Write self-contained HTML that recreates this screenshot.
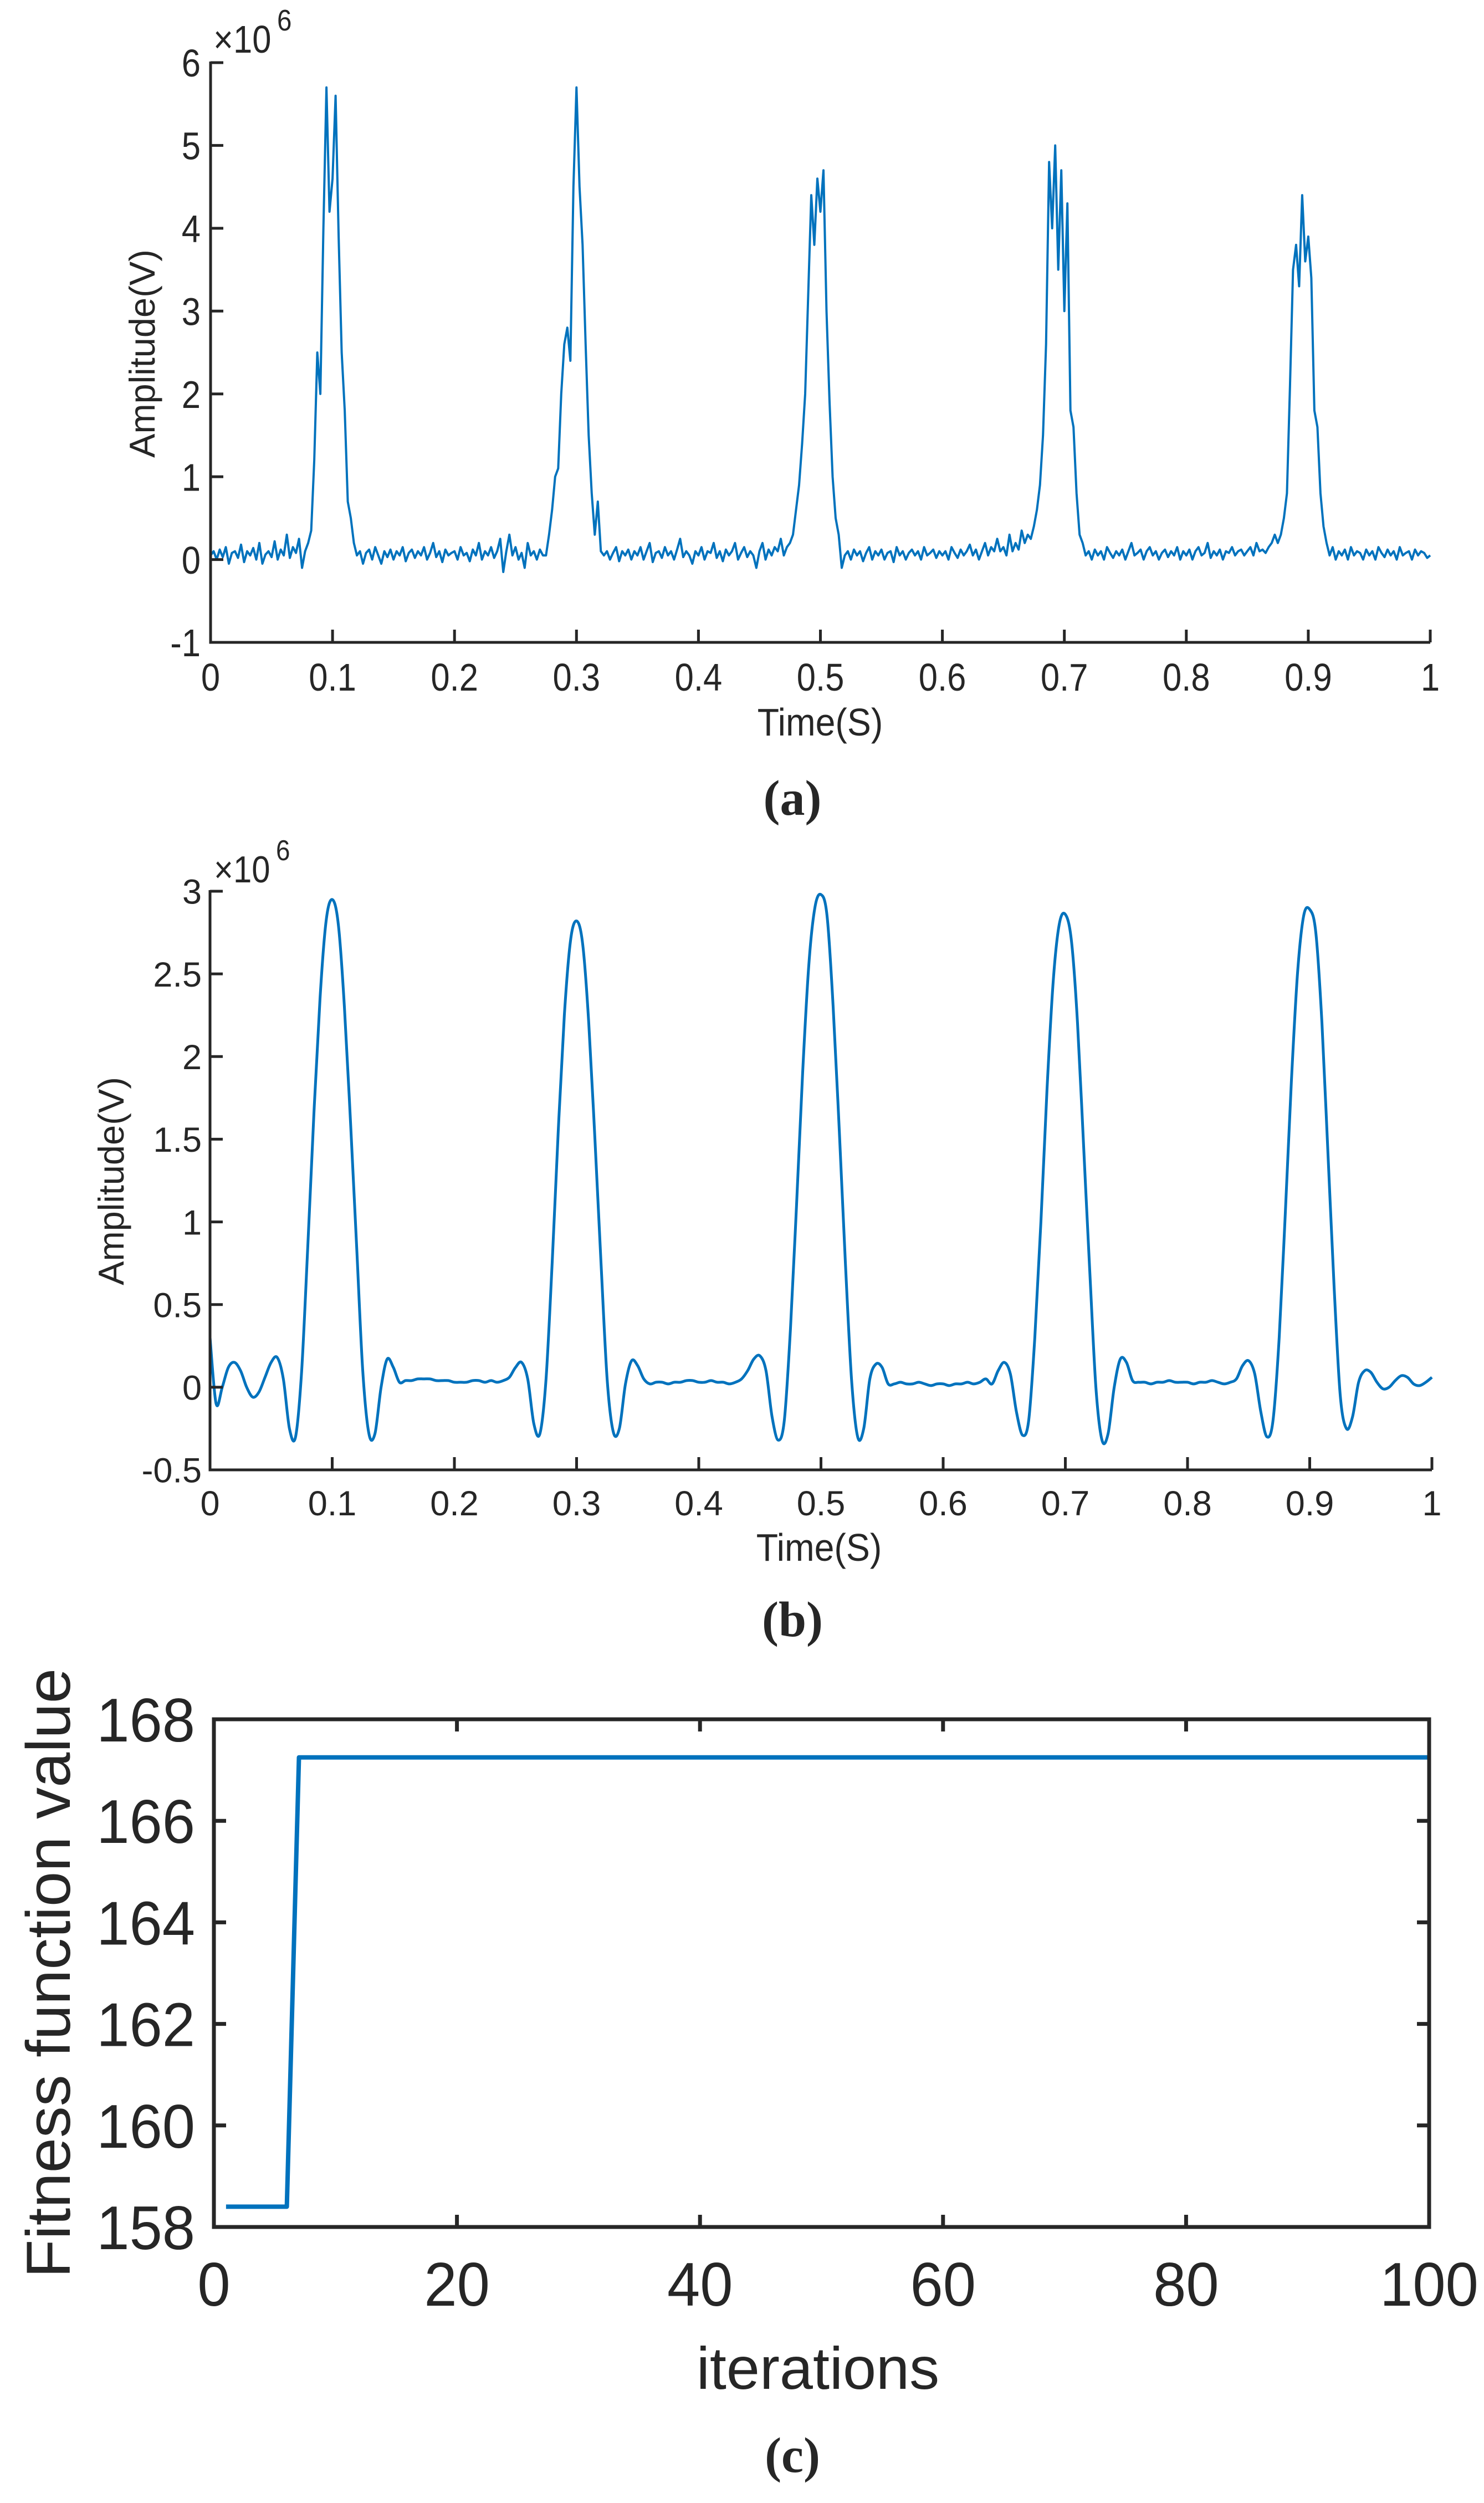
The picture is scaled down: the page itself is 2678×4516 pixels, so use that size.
<!DOCTYPE html>
<html><head><meta charset="utf-8"><title>Signal figures</title>
<style>
html,body{margin:0;padding:0;background:#fff;}
svg{display:block;}
text{font-family:"Liberation Sans",sans-serif;fill:#262626;}
.cap{font-family:"Liberation Serif",serif;font-weight:bold;}
</style></head>
<body>
<svg id="fig" width="2678" height="4516" viewBox="0 0 2678 4516" xmlns="http://www.w3.org/2000/svg"></svg>
<script>
// ---- Chart (a): raw signal (units of 1e6 V), sampled every 0.0025 s ----
const aTimeStep = 0.0025;
const aValues = [
0.05,0.1,0.0,0.12,0.03,0.15,-0.05,0.08,0.1,0.02,0.18,-0.03,0.1,0.05,0.14,0.0,0.2,-0.05,0.06,0.1,0.03,0.22,0.0,0.12,0.05,0.3,0.02,0.15,0.08,0.25,-0.1,0.1,0.2,0.35,1.2,2.5,2.0,4.0,5.7,4.2,
4.6,5.6,3.9,2.5,1.8,0.7,0.5,0.2,0.05,0.1,-0.05,0.08,0.12,0.0,0.15,0.05,-0.05,0.1,0.03,0.12,0.0,0.1,0.05,0.15,-0.02,0.08,0.12,0.02,0.1,0.05,0.15,0.0,0.08,0.2,0.03,0.1,-0.03,0.12,0.05,0.08,
0.1,0.0,0.15,0.05,0.08,-0.02,0.12,0.05,0.2,0.0,0.1,0.05,0.15,0.02,0.1,0.25,-0.15,0.1,0.3,0.05,0.15,0.0,0.08,-0.1,0.2,0.05,0.1,0.0,0.12,0.05,0.05,0.3,0.6,1.0,1.1,2.0,2.6,2.8,2.4,4.5,
5.7,4.5,3.8,2.6,1.5,0.8,0.3,0.7,0.1,0.05,0.1,0.0,0.08,0.15,-0.02,0.1,0.05,0.12,0.0,0.1,0.05,0.15,0.0,0.1,0.2,-0.03,0.08,0.1,0.02,0.15,0.05,0.1,0.0,0.12,0.25,0.03,0.1,0.05,-0.05,0.1,
0.05,0.15,0.0,0.1,0.08,0.2,0.02,0.1,-0.02,0.12,0.05,0.1,0.2,0.0,0.08,0.15,0.03,0.1,0.05,-0.1,0.1,0.2,0.0,0.12,0.05,0.15,0.1,0.25,0.05,0.15,0.2,0.3,0.6,0.9,1.4,2.0,3.2,4.4,3.8,4.6,
4.2,4.7,3.0,1.9,1.0,0.5,0.3,-0.1,0.05,0.1,0.0,0.12,0.05,0.1,-0.02,0.08,0.15,0.0,0.1,0.05,0.12,0.0,0.08,0.1,-0.03,0.15,0.05,0.1,0.0,0.08,0.12,0.05,0.1,0.0,0.15,0.05,0.08,0.12,0.02,0.1,
0.05,0.1,0.0,0.15,0.08,0.02,0.12,0.05,0.1,0.18,0.05,0.12,0.0,0.1,0.2,0.05,0.15,0.1,0.25,0.1,0.15,0.05,0.3,0.1,0.2,0.12,0.35,0.2,0.3,0.25,0.4,0.6,0.9,1.5,2.6,4.8,4.0,5.0,3.5,4.7,
3.0,4.3,1.8,1.6,0.8,0.3,0.2,0.05,0.1,0.0,0.12,0.05,0.1,0.0,0.15,0.08,0.02,0.1,0.05,0.12,0.0,0.1,0.2,0.05,0.08,0.12,0.0,0.1,0.15,0.05,0.1,0.0,0.08,0.12,0.03,0.1,0.05,0.15,0.0,0.1,
0.05,0.12,0.0,0.1,0.15,0.05,0.08,0.2,0.02,0.1,0.05,0.12,0.0,0.1,0.08,0.15,0.05,0.1,0.12,0.05,0.1,0.15,0.05,0.2,0.1,0.12,0.08,0.15,0.2,0.3,0.2,0.3,0.5,0.8,2.1,3.5,3.8,3.3,4.4,3.6,
3.9,3.4,1.8,1.6,0.8,0.4,0.2,0.05,0.15,0.0,0.1,0.05,0.12,0.0,0.15,0.05,0.1,0.08,0.0,0.12,0.05,0.1,0.0,0.15,0.08,0.03,0.12,0.05,0.1,0.0,0.15,0.05,0.08,0.1,0.0,0.12,0.05,0.1,0.08,0.02,
0.05];
const aXTicks = [0,0.1,0.2,0.3,0.4,0.5,0.6,0.7,0.8,0.9,1];
const aXTickLabels = ["0","0.1","0.2","0.3","0.4","0.5","0.6","0.7","0.8","0.9","1"];
const aYTicks = [-1,0,1,2,3,4,5,6];
const aYTickLabels = ["-1","0","1","2","3","4","5","6"];

// ---- Chart (b): filtered signal (units of 1e6 V), sampled every 0.005 s ----
const bTimeStep = 0.005;
const bValues = [
0.30,-0.10,0.00,0.12,0.15,0.10,0.00,-0.06,-0.03,0.06,0.15,0.18,0.05,-0.25,-0.30,0.10,0.85,1.65,2.35,2.82,
2.95,2.80,2.30,1.60,0.85,0.10,-0.28,-0.28,0.00,0.17,0.12,0.03,0.04,0.04,0.05,0.05,0.05,0.04,0.04,0.04,
0.03,0.03,0.03,0.04,0.04,0.03,0.04,0.03,0.04,0.06,0.12,0.15,0.05,-0.22,-0.28,0.05,0.75,1.55,2.25,2.70,
2.82,2.68,2.20,1.50,0.75,0.05,-0.27,-0.25,0.02,0.16,0.13,0.05,0.02,0.03,0.03,0.02,0.03,0.03,0.04,0.04,
0.03,0.03,0.04,0.03,0.03,0.02,0.03,0.05,0.10,0.17,0.19,0.10,-0.18,-0.32,-0.20,0.35,1.10,1.90,2.55,2.90,
2.98,2.85,2.30,1.55,0.75,0.05,-0.30,-0.25,0.05,0.14,0.12,0.02,0.02,0.03,0.02,0.02,0.03,0.02,0.01,0.02,
0.02,0.01,0.02,0.02,0.03,0.02,0.03,0.05,0.02,0.10,0.15,0.08,-0.15,-0.29,-0.20,0.30,1.00,1.80,2.45,2.80,
2.86,2.70,2.20,1.45,0.70,0.00,-0.32,-0.28,0.00,0.17,0.15,0.04,0.03,0.03,0.02,0.03,0.03,0.04,0.03,0.03,
0.03,0.02,0.03,0.03,0.04,0.03,0.02,0.03,0.05,0.13,0.16,0.08,-0.15,-0.30,-0.20,0.30,1.05,1.85,2.50,2.85,
2.89,2.75,2.20,1.40,0.60,-0.05,-0.25,-0.18,0.03,0.10,0.09,0.03,-0.01,0.00,0.04,0.07,0.06,0.02,0.01,0.03,
0.06];
const bXTicks = [0,0.1,0.2,0.3,0.4,0.5,0.6,0.7,0.8,0.9,1];
const bXTickLabels = ["0","0.1","0.2","0.3","0.4","0.5","0.6","0.7","0.8","0.9","1"];
const bYTicks = [-0.5,0,0.5,1,1.5,2,2.5,3];
const bYTickLabels = ["-0.5","0","0.5","1","1.5","2","2.5","3"];

// ---- Chart (c): fitness per iteration ----
const cIterations = [1,6,7,100];
const cFitness = [158.4,158.4,167.25,167.25];
const cXTicks = [0,20,40,60,80,100];
const cXTickLabels = ["0","20","40","60","80","100"];
const cYTicks = [158,160,162,164,166,168];
const cYTickLabels = ["158","160","162","164","166","168"];

const NS = "http://www.w3.org/2000/svg";
const svg = document.getElementById("fig");
const AX = "#262626", BLUE = "#0072BD";

function mk(tag, attrs, parent) {
  const e = document.createElementNS(NS, tag);
  for (const k in attrs) e.setAttribute(k, attrs[k]);
  (parent || svg).appendChild(e);
  return e;
}
function label(txt, x, y, size, sx, anchor, name, cls, rot) {
  const g = mk("g", {transform: "translate(" + x + "," + y + ")" + (rot ? " rotate(" + rot + ")" : "") + " scale(" + sx + ",1)"});
  const t = mk("text", {x: 0, y: 0, "font-size": size, "text-anchor": anchor}, g);
  if (cls) t.setAttribute("class", cls);
  t.textContent = txt;
  
  
  return t;
}

function drawChart(cfg) {
  const sx = v => cfg.L + (v - cfg.x0) / (cfg.x1 - cfg.x0) * (cfg.R - cfg.L);
  const sy = v => cfg.B - (v - cfg.y0) / (cfg.y1 - cfg.y0) * (cfg.B - cfg.T);
  const g = mk("g", {});
  
  
  const P = cfg.xs.map((x, i) => [sx(x), sy(cfg.ys[i])]);
  let d = "M" + P[0][0].toFixed(1) + "," + P[0][1].toFixed(1);
  if (cfg.smooth) {
    for (let i = 0; i < P.length - 1; i++) {
      const p0 = P[Math.max(0, i - 1)], p1 = P[i], p2 = P[i + 1], p3 = P[Math.min(P.length - 1, i + 2)];
      const c1x = p1[0] + (p2[0] - p0[0]) / 6, c1y = p1[1] + (p2[1] - p0[1]) / 6;
      const c2x = p2[0] - (p3[0] - p1[0]) / 6, c2y = p2[1] - (p3[1] - p1[1]) / 6;
      d += "C" + c1x.toFixed(1) + "," + c1y.toFixed(1) + " " + c2x.toFixed(1) + "," + c2y.toFixed(1) + " " + p2[0].toFixed(1) + "," + p2[1].toFixed(1);
    }
  } else {
    for (let i = 1; i < P.length; i++) d += "L" + P[i][0].toFixed(1) + "," + P[i][1].toFixed(1);
  }
  const p = mk("path", {d: d, fill: "none", stroke: BLUE, "stroke-width": cfg.lw, "stroke-linejoin": "round"}, g);
  
  
  const ax = mk("path", {d: cfg.box ?
      `M${cfg.L},${cfg.T}H${cfg.R}V${cfg.B}H${cfg.L}Z` :
      `M${cfg.L},${cfg.T - 2}V${cfg.B}H${cfg.R}`, fill: "none", stroke: AX, "stroke-width": cfg.aw}, g);
  
  
  let td = "";
  cfg.xt.forEach(v => { const X = sx(v); td += `M${X},${cfg.B}V${cfg.B - cfg.tl}`; if (cfg.box) td += `M${X},${cfg.T}V${cfg.T + cfg.tl}`; });
  cfg.yt.forEach(v => { const Y = sy(v); td += `M${cfg.L},${Y}H${cfg.L + cfg.tl}`; if (cfg.box) td += `M${cfg.R},${Y}H${cfg.R - cfg.tl}`; });
  const tk = mk("path", {d: td, stroke: AX, "stroke-width": cfg.aw}, g);
  
  
  cfg.xt.forEach((v, i) => label(cfg.xtl[i], sx(v), cfg.xlY, cfg.fs, cfg.fsx, "middle", "x-tick-label", null));
  cfg.yt.forEach((v, i) => label(cfg.ytl[i], cfg.ylX, sy(v) + cfg.fs * 0.36, cfg.fs, cfg.fsx, "end", "y-tick-label", null));
}

const aTimes = aValues.map((_, i) => i * aTimeStep);
drawChart({name: "chart-a", L: 380, R: 2581, T: 113, B: 1159, x0: 0, x1: 1, y0: -1, y1: 6,
  xs: aTimes, ys: aValues, lw: 4, aw: 5, tl: 23, box: false, smooth: false,
  xt: aXTicks, xtl: aXTickLabels, yt: aYTicks, ytl: aYTickLabels,
  fs: 70, fsx: 0.88, xlY: 1246, ylX: 362});
label("\u00d710", 385, 95, 70, 0.88, "start", "exponent-label-a", null);
label("6", 500, 55, 54, 0.88, "start", "exponent-power-a", null);
label("Amplitude(V)", 279, 638, 65, 1, "middle", "y-axis-title-a", null, -90);
label("Time(S)", 1480, 1327, 70, 0.92, "middle", "x-axis-title-a", null);
label("(a)", 1430, 1470, 90, 1, "middle", "caption-a", "cap");

const bTimes = bValues.map((_, i) => i * bTimeStep);
drawChart({name: "chart-b", L: 379, R: 2584, T: 1608, B: 2652, x0: 0, x1: 1, y0: -0.5, y1: 3,
  xs: bTimes, ys: bValues, lw: 5, aw: 5, tl: 23, box: false, smooth: true,
  xt: bXTicks, xtl: bXTickLabels, yt: bYTicks, ytl: bYTickLabels,
  fs: 63, fsx: 1.0, xlY: 2734, ylX: 364});
label("\u00d710", 386, 1592, 68, 0.88, "start", "exponent-label-b", null);
label("6", 498, 1552, 52, 0.88, "start", "exponent-power-b", null);
label("Amplitude(V)", 223, 2131, 65, 1, "middle", "y-axis-title-b", null, -90);
label("Time(S)", 1478, 2816, 70, 0.92, "middle", "x-axis-title-b", null);
label("(b)", 1430, 2952, 90, 1, "middle", "caption-b", "cap");

drawChart({name: "chart-c", L: 386, R: 2579, T: 3102, B: 4018, x0: 0, x1: 100, y0: 158, y1: 168,
  xs: cIterations, ys: cFitness, lw: 8, aw: 7, tl: 22, box: true, smooth: false,
  xt: cXTicks, xtl: cXTickLabels, yt: cYTicks, ytl: cYTickLabels,
  fs: 111, fsx: 0.96, xlY: 4160, ylX: 352});
const ft = label("Fitness function value", 126, 3560, 112, 1, "middle", "y-axis-title-c", null, -90);
ft.setAttribute("textLength", "1100");
ft.setAttribute("lengthAdjust", "spacingAndGlyphs");
label("iterations", 1476, 4310, 108, 1.0, "middle", "x-axis-title-c", null);
label("(c)", 1430, 4460, 90, 1, "middle", "caption-c", "cap");
</script>
</body></html>
